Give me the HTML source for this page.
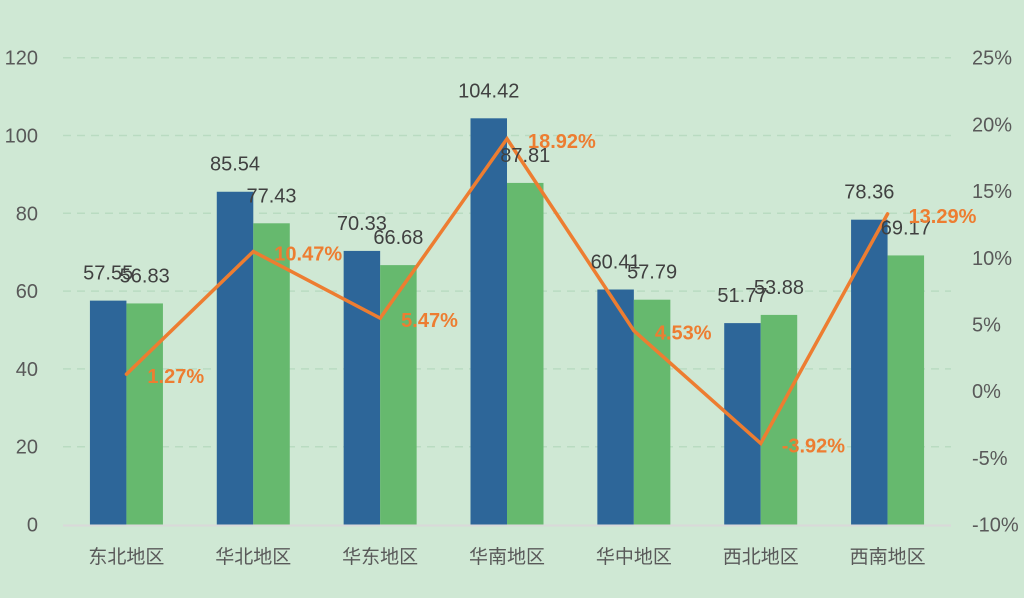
<!DOCTYPE html>
<html><head><meta charset="utf-8"><style>
html,body{margin:0;padding:0;background:#cfe8d4;}
svg{display:block;font-family:"Liberation Sans","Noto Sans CJK SC",sans-serif;}
</style></head><body>
<svg id="chart" width="1024" height="598" viewBox="0 0 1024 598" xmlns="http://www.w3.org/2000/svg">
<rect x="0" y="0" width="1024" height="598" fill="#cfe8d4"/>
<g id="grid"></g><g id="bars"></g><g id="line"></g><g id="labels"></g><g id="axes"></g>
</svg>
<script>
const categories = ["东北地区","华北地区","华东地区","华南地区","华中地区","西北地区","西南地区"];
const seriesBlue = [57.55,85.54,70.33,104.42,60.41,51.77,78.36];
const seriesGreen = [56.83,77.43,66.68,87.81,57.79,53.88,69.17];
const growthPct = [1.27,10.47,5.47,18.92,4.53,-3.92,13.29];
const leftTicks = [0,20,40,60,80,100,120];
const rightTicks = [-10,-5,0,5,10,15,20,25];

const NS="http://www.w3.org/2000/svg";
const X0=63,X1=951,YB=524.5,YT=57.7;
const catW=(X1-X0)/categories.length, barW=36.5;
const yL=v=>YB-(v/120)*(YB-YT);
const yR=v=>YB-((v+10)/35)*(YB-YT);
const cx=i=>X0+catW*(i+0.5);
function mk(tag,attrs,parent,text){const e=document.createElementNS(NS,tag);for(const k in attrs)e.setAttribute(k,attrs[k]);if(text!==undefined)e.textContent=text;document.getElementById(parent).appendChild(e);return e;}

leftTicks.forEach(t=>{
  if(t>0){const g=mk('line',{x1:X0,x2:X1,y1:yL(t),y2:yL(t),stroke:'#b9dbc1','stroke-width':1.5,'stroke-dasharray':'8 6'},'grid');
  
  }
  const l=mk('text',{x:38,y:yL(t)+7,'text-anchor':'end','font-size':20,fill:'#595959'},'axes',String(t));
  
  
});
rightTicks.forEach(t=>{
  const l=mk('text',{x:972,y:yR(t)+7,'font-size':20,fill:'#595959'},'axes',t+'%');
  
  
});
const ax=mk('line',{x1:X0,x2:X1,y1:YB+1,y2:YB+1,stroke:'#d9d9d9','stroke-width':2},'axes');



categories.forEach((c,i)=>{
  const b=mk('rect',{x:cx(i)-barW,y:yL(seriesBlue[i]),width:barW,height:YB-yL(seriesBlue[i]),fill:'#2d6699'},'bars');
  
  
  const g=mk('rect',{x:cx(i),y:yL(seriesGreen[i]),width:barW,height:YB-yL(seriesGreen[i]),fill:'#66b96e'},'bars');
  
  
  const lb=mk('text',{x:cx(i)-barW/2,y:yL(seriesBlue[i])-21,'text-anchor':'middle','font-size':20,fill:'#404040'},'labels',seriesBlue[i].toFixed(2));
  
  
  const lg=mk('text',{x:cx(i)+barW/2,y:yL(seriesGreen[i])-21,'text-anchor':'middle','font-size':20,fill:'#404040'},'labels',seriesGreen[i].toFixed(2));
  
  
  const cl=mk('text',{x:cx(i),y:563,'text-anchor':'middle','font-size':19,fill:'#595959'},'axes',c);
  
  
  const pl=mk('text',{x:cx(i)+21,y:yR(growthPct[i])+9,'font-size':20,'font-weight':'bold',fill:'#ed7d31'},'labels',growthPct[i].toFixed(2)+'%');
  
  
});
const pts=growthPct.map((v,i)=>cx(i)+','+yR(v)).join(' ');
const pl=mk('polyline',{points:pts,fill:'none',stroke:'#ed7d31','stroke-width':3.5,'stroke-linejoin':'miter','stroke-linecap':'round'},'line');


</script>
</body></html>
